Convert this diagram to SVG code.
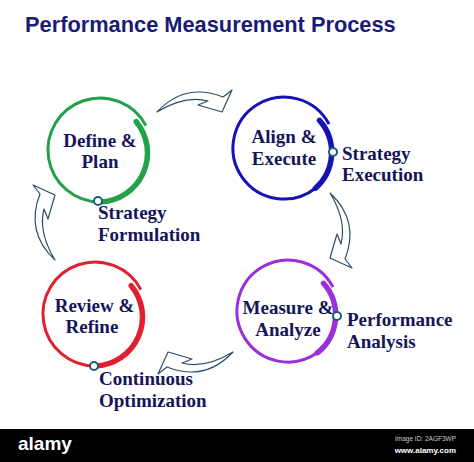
<svg xmlns="http://www.w3.org/2000/svg" xmlns:xlink="http://www.w3.org/1999/xlink" width="474" height="462" viewBox="0 0 474 462">
<style>
.lbl{font-family:"Liberation Serif","Times New Roman",serif;font-weight:bold;font-size:19px;fill:#15155a}
.mid{text-anchor:middle}
.thin{fill:none;stroke-width:3}
.thick{fill:none;stroke-width:5.5;stroke-linecap:round}
.dot{fill:#fff;stroke:#1f5c73;stroke-width:2}
.arr{fill:#fff;stroke:#2b4d6b;stroke-width:1.2;stroke-linejoin:round}
</style>
<defs>
<path id="carrow" d="M-33,12 Q-5,-18 33,-3 L42,-10 L32,12 L8,5 L18,1 Q-5,-5 -33,12 Z"/>
</defs>
<rect width="474" height="462" fill="#fff"/>
<text x="25" y="32" font-family="'Liberation Sans',Arial,sans-serif" font-weight="bold" font-size="21.8" fill="#1a1a78">Performance Measurement Process</text>

<g id="connectors" class="arr">
<use xlink:href="#carrow" transform="translate(190,100)"/>
<use xlink:href="#carrow" transform="translate(342,226) rotate(90)"/>
<use xlink:href="#carrow" transform="translate(200,364) rotate(180)"/>
<use xlink:href="#carrow" transform="translate(43,227) rotate(-90)"/>
</g>

<g id="node-define">
<path class="thin" stroke="#22a04a" d="M100,202 A52,52 0 1 1 145.9,125.6"/>
<path class="thick" stroke="#22a04a" d="M136.2,121.7 A49,49 0 0 1 100,202"/>
<circle class="dot" cx="98" cy="201" r="4"/>
<text class="lbl mid" x="100" y="147">Define &amp;</text>
<text class="lbl mid" x="100" y="168">Plan</text>
<text class="lbl" x="98" y="219">Strategy</text>
<text class="lbl" x="98" y="241">Formulation</text>
</g>

<g id="node-align">
<path class="thin" stroke="#1414b4" d="M315.4,188.2 A51,51 0 1 1 329,124.1"/>
<path class="thick" stroke="#1414b4" d="M319.5,120.3 A48,48 0 0 1 315.4,188.2"/>
<circle class="dot" cx="333" cy="152" r="4"/>
<text class="lbl mid" x="284" y="143">Align &amp;</text>
<text class="lbl mid" x="284" y="165">Execute</text>
<text class="lbl" x="342" y="160">Strategy</text>
<text class="lbl" x="342" y="181">Execution</text>
</g>

<g id="node-measure">
<path class="thin" stroke="#9b30d8" d="M317.3,352.8 A51,51 0 1 1 333,287.1"/>
<path class="thick" stroke="#9b30d8" d="M323.5,283.3 A48,48 0 0 1 317.3,352.8"/>
<circle class="dot" cx="337" cy="316" r="4"/>
<text class="lbl mid" x="288" y="314">Measure &amp;</text>
<text class="lbl mid" x="288" y="336">Analyze</text>
<text class="lbl" x="347" y="326">Performance</text>
<text class="lbl" x="347" y="348">Analysis</text>
</g>

<g id="node-review">
<path class="thin" stroke="#e0202e" d="M95,366 A52,52 0 1 1 140.9,289.6"/>
<path class="thick" stroke="#e0202e" d="M131.2,285.7 A49,49 0 0 1 95,366"/>
<circle class="dot" cx="94" cy="366" r="4"/>
<text class="lbl mid" x="94.5" y="312">Review &amp;</text>
<text class="lbl mid" x="92" y="333">Refine</text>
<text class="lbl" x="99" y="385">Continuous</text>
<text class="lbl" x="99" y="407">Optimization</text>
</g>

<g id="watermark">
<rect x="0" y="429" width="474" height="33" fill="#000"/>
<text x="18" y="450" font-family="'Liberation Sans',Arial,sans-serif" font-weight="bold" font-size="19" fill="#fff">alamy</text>
<text x="456" y="441" text-anchor="end" font-family="'Liberation Sans',Arial,sans-serif" font-size="6.5" fill="#ccc">Image ID: 2AGF3WP</text>
<text x="456" y="453" text-anchor="end" font-family="'Liberation Sans',Arial,sans-serif" font-weight="bold" font-size="8" fill="#fff">www.alamy.com</text>
</g>
</svg>
